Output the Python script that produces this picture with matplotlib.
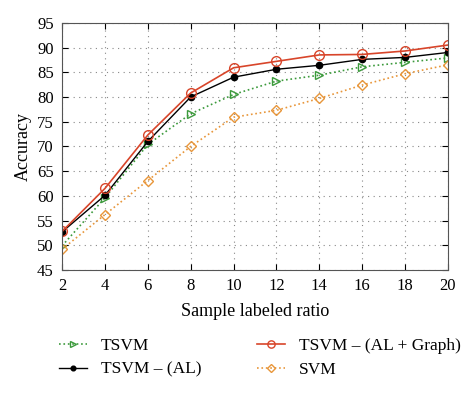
import matplotlib
matplotlib.use('Agg')
import matplotlib.pyplot as plt

plt.rcParams['font.family'] = ['Liberation Serif', 'DejaVu Serif']

# Dados
ratio = [2, 4, 6, 8, 10, 12, 14, 16, 18, 20]
tsvm = [49.9, 59.6, 70.4, 76.6, 80.5, 83.2, 84.4, 86.1, 87.0, 87.9]
tsvm_al = [52.7, 60.1, 71.0, 80.0, 84.0, 85.6, 86.4, 87.6, 88.0, 89.0]
tsvm_al_graph = [52.8, 61.5, 72.3, 80.8, 85.9, 87.2, 88.5, 88.6, 89.3, 90.5]
svm = [49.2, 56.2, 63.1, 70.0, 75.9, 77.3, 79.7, 82.4, 84.7, 86.5]

xticks = [2, 4, 6, 8, 10, 12, 14, 16, 18, 20]
yticks = [45, 50, 55, 60, 65, 70, 75, 80, 85, 90, 95]

fig = plt.figure(figsize=(4.74, 3.93), dpi=100)
ax = fig.add_axes([0.131, 0.313, 0.814, 0.629])

ax.plot(ratio, tsvm, ':', color='#3c9a3c', marker='>', mfc='none', ms=6, lw=1.2, label='TSVM')
ax.plot(ratio, tsvm_al, '-', color='black', marker='o', ms=4.5, lw=1.0, label='TSVM – (AL)')
ax.plot(ratio, tsvm_al_graph, '-', color='#d8452a', marker='o', mfc='none', ms=7, lw=1.2, label='TSVM – (AL + Graph)')
ax.plot(ratio, svm, ':', color='#e8963a', marker='D', mfc='none', ms=5.5, lw=1.2, label='SVM')

ax.set_xlim(2, 20)
ax.set_ylim(45, 95)
ax.set_xticks(xticks)
ax.set_yticks(yticks)
ax.tick_params(direction='in', top=True, right=True, labelsize=12, length=4, pad=6)
ax.grid(True, linestyle=(0, (1, 4)), color='#888888', lw=0.8)
for s in ax.spines.values():
    s.set_color('#555555')

ax.set_xlabel('Sample labeled ratio', fontsize=13, labelpad=6)
ax.set_ylabel('Accuracy', fontsize=13, labelpad=4)

ax.legend(ncol=2, loc='upper center', bbox_to_anchor=(0.513, -0.21), frameon=False,
          fontsize=12.5, handlelength=1.6, handletextpad=0.8, columnspacing=3.2,
          labelspacing=0.45, markerscale=0.75)

fig.savefig('out.png', dpi=100)
